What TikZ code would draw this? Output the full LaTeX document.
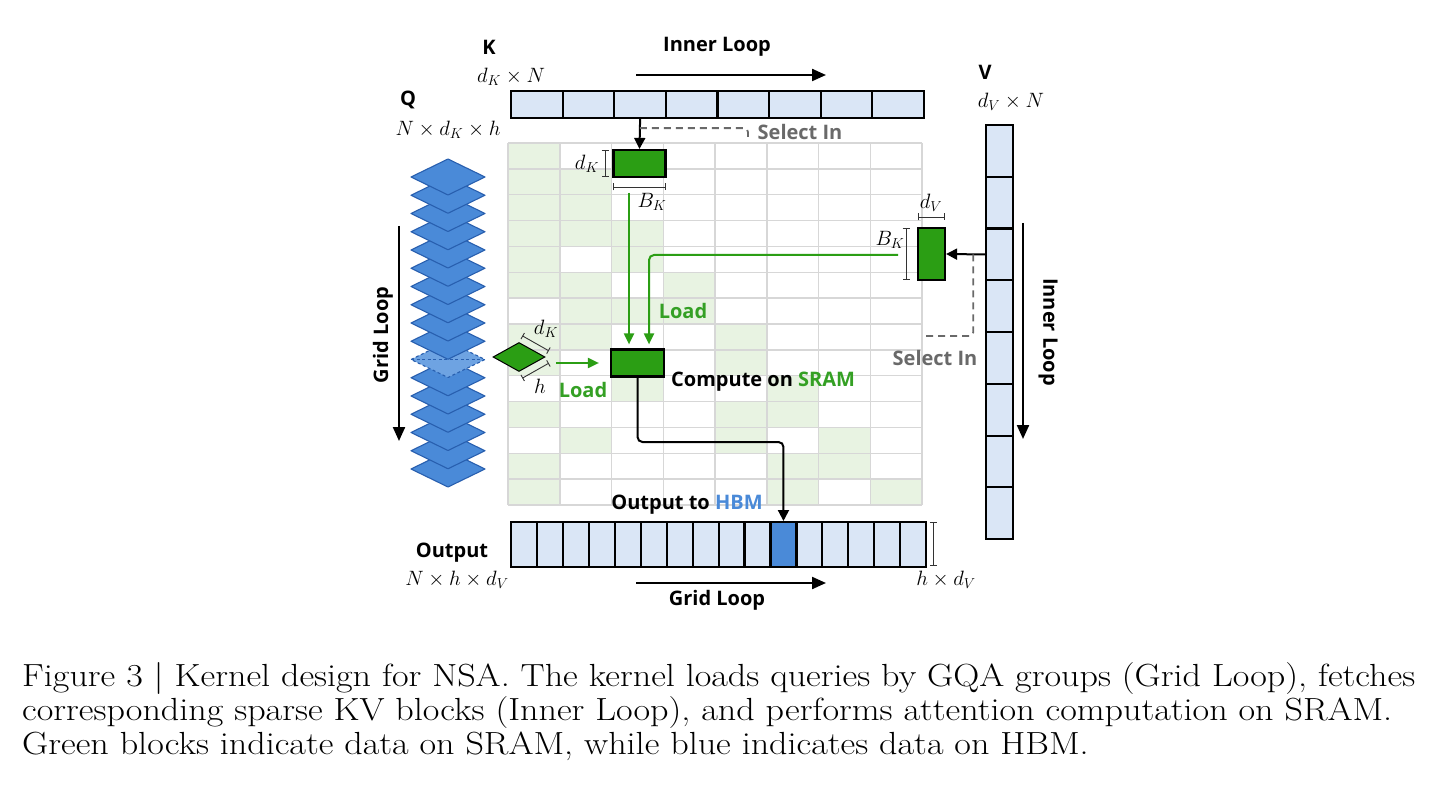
\documentclass[tikz,border=0pt]{standalone}
\usepackage{fontspec}
\newfontfamily\osans{Open Sans}
\newfontfamily\capfont{Latin Modern Roman}[FakeStretch=1.128]
\usetikzlibrary{arrows.meta,shapes.geometric,calc}
\definecolor{lightblue}{RGB}{218,230,246}
\definecolor{qblue}{RGB}{74,138,216}
\definecolor{qedge}{RGB}{40,95,175}
\definecolor{qlight}{RGB}{110,163,226}
\definecolor{sgreen}{RGB}{43,158,20}
\definecolor{tgreen}{RGB}{52,160,36}
\definecolor{cellgreen}{RGB}{232,243,226}
\definecolor{gridgray}{RGB}{215,215,215}
\definecolor{selgray}{RGB}{105,105,105}
\definecolor{hbmblue}{RGB}{74,138,216}
\begin{document}
\begin{tikzpicture}[x=1pt,y=-1pt,
  lbl/.style={font=\osans\bfseries\fontsize{20}{22}\selectfont, inner sep=0},
  mth/.style={font=\fontsize{20}{22}\selectfont, inner sep=0},
  dml/.style={font=\fontsize{19.5}{21}\selectfont, inner sep=0},
  captext/.style={font=\capfont\fontsize{32}{34}\selectfont, inner sep=0, anchor=base west},
  kvcell/.style={draw=black, line width=2.2pt, fill=lightblue, inner sep=0, anchor=north west},
  blockg/.style={draw=black, line width=2.2pt, fill=sgreen, inner sep=0},
  gridline/.style={draw=gridgray, line width=1.5pt},
  blk/.style={draw=black, line width=2pt, -{Triangle[length=11pt,width=11pt]}},
  looparrow/.style={draw=black, line width=2.2pt, -{Triangle[length=14pt,width=12pt]}},
  grn/.style={draw=sgreen, line width=2pt, -{Triangle[length=11pt,width=10pt]}},
  seld/.style={draw=selgray, line width=1.8pt, dash pattern=on 7pt off 5pt, rounded corners=4pt},
  dimln/.style={draw=black!80, line width=0.9pt, {Bar[width=7pt]}-{Bar[width=7pt]}},
  qd/.style={draw=qedge, line width=1.1pt, fill=qblue, line join=round},
]
\useasboundingbox (0,0) rectangle (1456,802);
\fill[white] (0,0) rectangle (1456,802);

% ---------- grid of selection ----------
\foreach \c/\r in {0/0,0/1,1/1,0/2,1/2,0/3,1/3,2/3,0/4,2/4,0/5,1/5,3/5,1/6,2/6,3/6,
  0/7,1/7,4/7,0/8,4/8,2/9,5/9,0/10,4/10,5/10,1/11,4/11,6/11,0/12,5/12,6/12,0/13,5/13,7/13}
  \fill[cellgreen] ({508+51.75*\c},{143+25.857*\r}) rectangle +(51.75,25.857);
\foreach \i in {0,...,8} \draw[gridline] ({508+51.75*\i},143) -- ({508+51.75*\i},505);
\foreach \j in {0,...,14} \draw[gridline] (508,{143+25.857*\j}) -- (922,{143+25.857*\j});

% ---------- K ----------
\node[lbl] (Klab) at (489,47) {K};
\node[mth] (Kdim) at (511,77) {$d_K\times N$};
\node[lbl] (IL1) at (717,47) {Inner Loop};
\coordinate (ila) at (636,75); \coordinate (ilb) at (826,75);
\draw[looparrow] (ila) -- (ilb);
\foreach \i in {0,...,7}
  \node[kvcell, minimum width=51.6pt, minimum height=27pt] (k\i) at ({510+51.6*\i},90) {};

\node[blockg, minimum width=52pt, minimum height=27pt] (kblk) at (639.5,163.5) {};
\draw[blk] (k2.south) -- (kblk.north);
\coordinate (s1) at ($(k2.south)!0.3!(kblk.north)$);
\coordinate (se1) at (748,139);
\draw[seld] (s1) -| (se1);
\node[lbl, text=selgray] (sel1) at (800,132) {Select In};
\draw[dimln] (605,150) -- (605,177);
\node[dml] (dk1) at (587,164) {$d_K$};
\draw[dimln] (613,187) -- (666,187);
\node[dml] (bk1) at (652,202) {$B_K$};

% ---------- V ----------
\node[lbl] (Vlab) at (985,72) {V};
\node[mth] (Vdim) at (1011,102) {$d_V\times N$};
\foreach \i in {0,...,7}
  \node[kvcell, minimum width=27pt, minimum height=51.75pt] (v\i) at (985,{124+51.75*\i}) {};
\node[lbl, rotate=-90] (IL2) at (1048,332) {Inner Loop};
\coordinate (il2a) at (1023,223); \coordinate (il2b) at (1023,439);
\draw[looparrow] (il2a) -- (il2b);

\node[blockg, minimum width=27pt, minimum height=52pt] (vblk) at (931.5,254) {};
\draw[blk] (v2.west) -- (vblk.east);
\coordinate (s2) at ($(v2.west)!0.3!(vblk.east)$);
\coordinate (se2) at (922,336);
\draw[seld] (s2) |- (se2);
\node[lbl, text=selgray] (sel2) at (935,358) {Select In};
\draw[dimln] (918,217) -- (945,217);
\node[dml] (dv1) at (931,203) {$d_V$};
\draw[dimln] (906,228) -- (906,280);
\node[dml] (bk2) at (890,240) {$B_K$};

% ---------- Q ----------
\node[lbl] (Qlab) at (408,100) {Q};
\node[mth] (Qdim) at (448,130) {$N\times d_K\times h$};
\foreach \i in {16,...,0} {
  \pgfmathsetmacro\cy{177+18.25*\i}
  \ifnum\i=10
    \path[qd, fill=qlight, dash pattern=on 3pt off 2.5pt] (411,\cy) -- (448,\cy-18) -- (485,\cy) -- (448,\cy+18) -- cycle;
    \draw[qedge, line width=1.1pt, dash pattern=on 3pt off 2.5pt] (411,\cy) -- (485,\cy);
  \else
    \path[qd] (411,\cy) -- (448,\cy-18) -- (485,\cy) -- (448,\cy+18) -- cycle;
  \fi
}
\node[lbl, rotate=90] (GL1) at (383,335) {Grid Loop};
\coordinate (gl1a) at (399,226); \coordinate (gl1b) at (399,441);
\draw[looparrow] (gl1a) -- (gl1b);

% green query group
\node[diamond, draw=black, line width=1pt, fill=sgreen, minimum width=52pt, minimum height=29pt, inner sep=0] (qg) at (519,357) {};
\draw[dimln] ([shift={(3.3,-6.2)}]qg.north) -- ([shift={(3.3,-6.2)}]qg.east);
\node[dml] (dk2) at (546,329) {$d_K$};
\draw[dimln] ([shift={(3.3,6.2)}]qg.east) -- ([shift={(3.3,6.2)}]qg.south);
\node[dml] (hq) at (540,386) {$h$};

% ---------- compute ----------
\node[blockg, minimum width=53pt, minimum height=27pt] (comp) at (637.5,363) {};
\draw[grn] ([xshift=-54pt]comp.west) -- ([xshift=-11pt]comp.west);
\node[lbl, text=tgreen] (load1) at (583,390) {Load};
\coordinate (gk) at (629,193);
\draw[grn] (gk) -- ([yshift=4pt]gk |- comp.north);
\coordinate (vg) at (898,255);
\coordinate (gv) at (649,255);
\draw[grn, rounded corners=5pt] (vg) -| ([yshift=4pt]gv |- comp.north);
\node[lbl, text=tgreen] (load2) at (683,311) {Load};
\node[lbl, anchor=west] (cos) at (671,382) {Compute on \textcolor{tgreen}{SRAM}};

% ---------- output ----------
\fill[lightblue] (510,521) rectangle (925,566);
\foreach \i in {0,...,15} {
  \ifnum\i=10 \def\ofill{hbmblue}\else\def\ofill{lightblue}\fi
  \node[kvcell, fill=\ofill, minimum width=25.94pt, minimum height=45pt] (o\i) at ({510+25.94*\i},521) {};
}
\node[lbl] (o2h) at (687,505) {Output to \textcolor{hbmblue}{HBM}};
\coordinate (yb) at (0,442);
\draw[blk, rounded corners=5pt] (comp.south) -- (comp.south |- yb) -| (o10.north);
\node[lbl] (Olab) at (452,553) {Output};
\node[mth] (Odim) at (457,580) {$N\times h\times d_V$};
\draw[dimln] (933,522) -- (933,566);
\node[mth] (hdim) at (946,580) {$h\times d_V$};
\node[lbl] (GL2) at (717,600) {Grid Loop};
\coordinate (gl2a) at (636,583); \coordinate (gl2b) at (826,583);
\draw[looparrow] (gl2a) -- (gl2b);

% ---------- caption ----------
\node[captext] (c1) at (22,686) {Figure 3 | Kernel design for NSA. The kernel loads queries by GQA groups (Grid Loop), fetches};
\node[captext] (c2) at (22,720) {corresponding sparse KV blocks (Inner Loop), and performs attention computation on SRAM.};
\node[captext] (c3) at (22,754) {Green blocks indicate data on SRAM, while blue indicates data on HBM.};
\end{tikzpicture}
\end{document}
